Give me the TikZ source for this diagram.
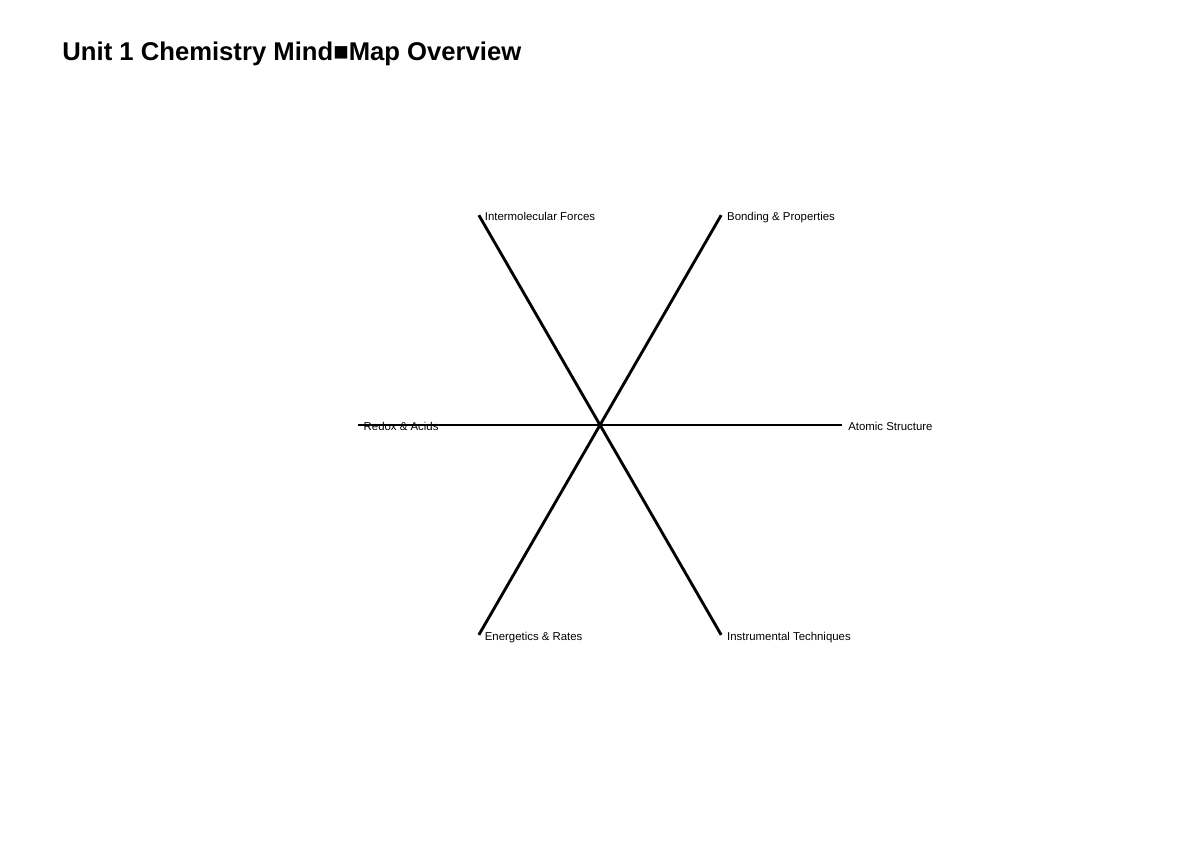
\documentclass[tikz,border=0pt]{standalone}
\usepackage{fontspec}
\setmainfont{Liberation Sans}
\begin{document}
\begin{tikzpicture}[x=1pt,y=1pt,
  spoke/.style={line width=2pt,black},
  lbl/.style={anchor=base west,inner sep=0pt,font=\fontsize{8}{9.6}\selectfont},
  ttl/.style={anchor=base west,inner sep=0pt,font=\fontsize{18}{21.6}\selectfont\bfseries}]
\useasboundingbox[fill=white] (0,0) rectangle (841.89,595.28);
\node[ttl] (title) at (43.6,552.6) {Unit 1 Chemistry Mind■Map Overview};
\coordinate (c) at (420.95,297.1);
\path (c) ++(0:170) coordinate (p0)
      (c) ++(60:170) coordinate (p1)
      (c) ++(120:170) coordinate (p2)
      (c) ++(180:170) coordinate (p3)
      (c) ++(240:170) coordinate (p4)
      (c) ++(300:170) coordinate (p5);
\foreach \i in {0,...,5} {\draw[spoke] (c) -- (p\i);}
\node[lbl] (l0) at ([shift={(4,-3.6)}]p0) {Atomic Structure};
\node[lbl] (l1) at ([shift={(4,-3.6)}]p1) {Bonding \& Properties};
\node[lbl] (l2) at ([shift={(4,-3.6)}]p2) {Intermolecular Forces};
\node[lbl] (l3) at ([shift={(4,-3.6)}]p3) {Redox \& Acids};
\node[lbl] (l4) at ([shift={(4,-3.6)}]p4) {Energetics \& Rates};
\node[lbl] (l5) at ([shift={(4,-3.6)}]p5) {Instrumental Techniques};
\end{tikzpicture}
\end{document}
